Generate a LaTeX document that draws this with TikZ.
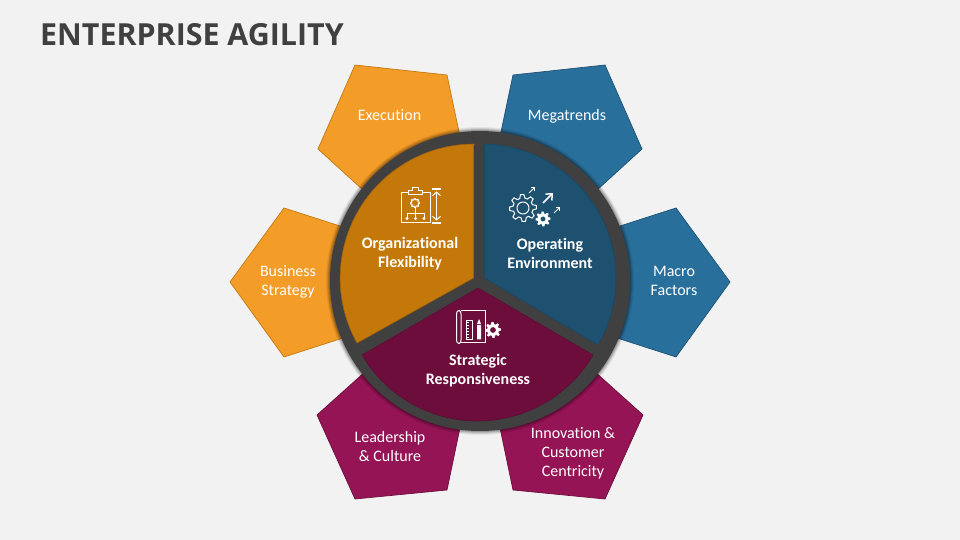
\documentclass[tikz,border=0pt]{standalone}
\usepackage{fontspec}
\setmainfont[Ligatures=NoCommon]{Carlito}
\newfontfamily\titlefont{Open Sans}
\usepackage{tikz}
\definecolor{pagebg}{HTML}{F2F2F2}
\definecolor{ringcol}{HTML}{404040}
\definecolor{orangelt}{HTML}{F39C28}
\definecolor{orangeln}{HTML}{C47A10}
\definecolor{orangedk}{HTML}{C47809}
\definecolor{bluelt}{HTML}{296F9B}
\definecolor{blueln}{HTML}{1F5374}
\definecolor{bluedk}{HTML}{1E5070}
\definecolor{plumlt}{HTML}{951455}
\definecolor{plumln}{HTML}{6E0F3F}
\definecolor{plumdk}{HTML}{6C0D3B}
\newcommand{\gearpath}[3]{% centre, outer radius, teeth
  ($(#1)+(0:#2)$)
  \foreach \t in {1,...,#3} {
    -- ($(#1)+({(\t-1)*360/#3+90/#3}:#2)$)
    -- ($(#1)+({(\t-1)*360/#3+150/#3}:#2*0.74)$)
    -- ($(#1)+({(\t-1)*360/#3+270/#3}:#2*0.74)$)
    -- ($(#1)+({(\t-1)*360/#3+330/#3}:#2)$)
    -- ($(#1)+({\t*360/#3}:#2)$)
  } -- cycle}
\usetikzlibrary{calc,arrows.meta}
\begin{document}
\begin{tikzpicture}[x=1pt,y=1pt,
    pent/.style = {draw, line width=.7pt, line join=miter},
    sector/.style = {draw, line width=.6pt, line join=round},
    lbl/.style = {text=white, align=center, font=\fontsize{16}{19}\selectfont, inner sep=0pt},
    head/.style = {text=white, align=center, font=\fontsize{16}{19}\selectfont\bfseries, inner sep=0pt},
    icon/.style = {draw=white, line width=1pt, line join=round},
    solid icon/.style = {fill=white, even odd rule},
    iconarrow/.style = {draw=white, line width=1.5pt, -{Straight Barb[length=5pt,width=9pt]}}]
  \fill[pagebg] (0,0) rectangle (960,540);
  \node[anchor=west, inner sep=0pt, text=ringcol, font=\titlefont\fontsize{30.4}{36}\selectfont\bfseries] (title) at (40,505.5) {ENTERPRISE AGILITY};

  \path[pent, fill=orangelt, draw=orangeln] (355,475) -- (447,465) -- (466,375) -- (386,329) -- (318,391) -- cycle;
  \path[pent, fill=orangelt, draw=orangeln] (284,332) -- (230,258) -- (284,183) -- (371,211) -- (371,304) -- cycle;
  \path[pent, fill=bluelt, draw=blueln] (605,475) -- (513,465) -- (494,375) -- (574,329) -- (642,391) -- cycle;
  \path[pent, fill=bluelt, draw=blueln] (676,332) -- (730,258) -- (676,183) -- (589,211) -- (589,304) -- cycle;
  \path[pent, fill=plumlt, draw=plumln] (355,41) -- (447,50) -- (466,141) -- (386,187) -- (317,125) -- cycle;
  \path[pent, fill=plumlt, draw=plumln] (605,41) -- (513,50) -- (494,141) -- (574,187) -- (643,125) -- cycle;

  \foreach \r/\o in {154/.06,153/.09,152/.12,151/.16}
    \fill[black, opacity=\o] (480,259) circle (\r);
  \fill[ringcol] (480,259) circle (150);

  \path[sector, fill=orangedk, draw=orangeln!80!black] (473.5,393) -- (473.5,262) -- (357,197) arc[start angle=209, end angle=90, radius=134] -- cycle;
  \path[sector, fill=bluedk, draw=blueln!85!black] (484.5,393) -- (484.5,262) -- (598,195) arc[start angle=-30, end angle=89, radius=134] -- cycle;
  \path[sector, fill=plumdk, draw=plumln!85!black] (478,252) -- (593,185) arc[start angle=-30.5, end angle=-149.5, radius=134] -- cycle;

  \node[lbl] (execution) at (389.5,425) {Execution};
  \node[lbl] (strategy) at (288,258.5) {Business\\Strategy};
  \node[lbl] (megatrends) at (567,424) {Megatrends};
  \node[lbl] (macro) at (674,259) {Macro\\Factors};
  \node[lbl] (leadership) at (390,93) {Leadership\\\& Culture};
  \node[lbl] (innovation) at (573,87) {Innovation \&\\Customer\\Centricity};
  \node[head] (flexibility) at (410,286) {Organizational\\Flexibility};
  \node[head] (environment) at (550,287) {Operating\\Environment};
  \node[head] (responsive) at (478,169.5) {Strategic\\Responsiveness};

  % clipboard
  \draw[icon] (408,347) -- (401.5,347) -- (401.5,317) -- (430,317) -- (430,347) -- (422,347);
  \draw[icon] (408,345) -- (408,349) -- (412,349) -- (412,352) -- (418,352) -- (418,349) -- (422,349) -- (422,345) -- cycle;
  \draw[icon] \gearpath{415,337}{4.5}{8};
  \draw[icon] (415,332) -- (415,326) (407,322) -- (407,326) -- (424,326) -- (424,322) (415.5,326) -- (415.5,322);
  \foreach \x in {407,415.5,424}
    \fill[white] (\x,321.5) circle (1.6);
  \draw[icon, line width=1.3pt] (432,351) -- (441,351) (432,317) -- (441,317);
  \draw[icon, <->, >={Straight Barb[length=3.5pt,width=8pt]}] (436.5,348.5) -- (436.5,319.5);

  % gears and arrows
  \draw[icon] \gearpath{523,332}{13.5}{8};
  \draw[icon] (523,332) circle (6);
  \fill[solid icon] \gearpath{543,321}{7.5}{8} (543,321) circle (2.6);
  \draw[iconarrow] (543,337) -- (553,347);
  \draw[iconarrow, line width=1pt, -{Straight Barb[length=2.5pt,width=5pt]}] (529,347) -- (535,353);
  \draw[iconarrow, line width=1pt, -{Straight Barb[length=2.5pt,width=5pt]}] (554,327) -- (560,333);

  % blueprint
  \draw[icon] (461,229) -- (485,229) -- (485,197) -- (461,197);
  \draw[icon] (456.5,200) -- (456.5,226) to[out=90,in=180] (459,229.5) to[out=0,in=90] (461,226) -- (461,200) to[out=-90,in=0] (459,196.5) to[out=180,in=-90] (456.5,200);
  \draw[icon, line width=.6pt] (466,200.5) rectangle (472.5,220);
  \foreach \y in {203,206,209,212,215,218}
    \draw[icon, line width=.4pt] (466,\y) -- (469,\y);
  \fill[white] (477,200.5) rectangle (481,215) (477,216) -- (481,216) -- (479,221) -- cycle;
  \fill[solid icon] \gearpath{493,210}{8}{8} (493,210) circle (3);
\end{tikzpicture}
\end{document}
